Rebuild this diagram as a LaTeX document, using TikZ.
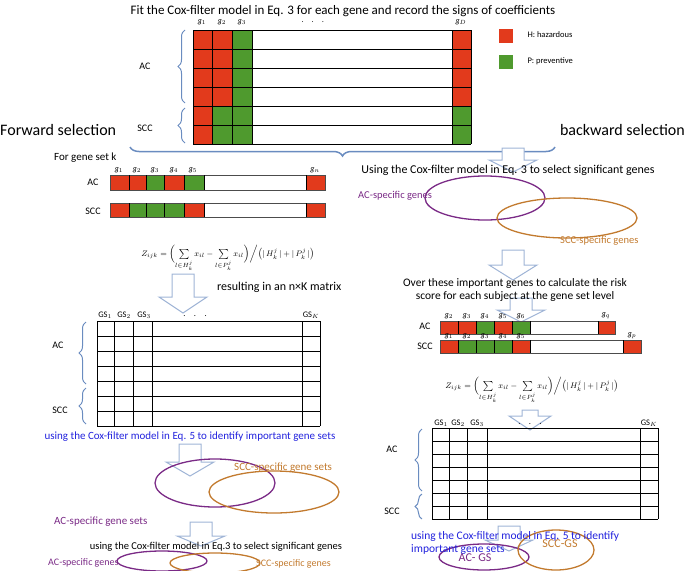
\documentclass[tikz,border=0pt]{standalone}
\usepackage{fontspec}
\setmainfont{Carlito}
\usetikzlibrary{decorations.pathreplacing}
\definecolor{hz}{HTML}{E23A1C}
\definecolor{pv}{HTML}{4F9A2E}
\definecolor{bl}{HTML}{2222DD}
\definecolor{pu}{HTML}{7A2A86}
\definecolor{br}{HTML}{C27A2E}
\definecolor{bc}{HTML}{6A8CC0}
\definecolor{ac}{HTML}{9FB4D6}
\newcommand\hollowarrow[4]{% x, ytop, ymid, ybot
  \draw[ac,line width=1pt,fill=white] (#1-11,#2) -- (#1+11,#2) -- (#1+11,#3) -- (#1+24,#3) -- (#1,#4) -- (#1-24,#3) -- (#1-11,#3) -- cycle;}
\newcommand\zformula{$Z_{ijk}=\Bigl(\mathop{\textstyle\sum}\limits_{l\in H_k^j}x_{il}-\mathop{\textstyle\sum}\limits_{l\in P_k^j}x_{il}\Bigr)\Big/\bigl(|\,H_k^j\,|+|\,P_k^j\,|\bigr)$}
\newcommand\fs[1]{\fontsize{#1}{\fpeval{#1*1.2}}\selectfont}
\begin{document}
\begin{tikzpicture}[x=1pt,y=-1pt,
  txt/.style={font=\fs{11},inner sep=1pt},
  gl/.style={font=\fs{8}\itshape,inner sep=0pt},
  gsl/.style={font=\fs{8.5},inner sep=0pt},
  lbl/.style={font=\fs{10},inner sep=1pt},
  rbrace/.style={bc,line width=1pt,decorate,decoration={brace,amplitude=7pt}},
  grid/.style={draw=black,line width=0.5pt},
  sel/.style={font=\fs{16},inner sep=0pt}]
\useasboundingbox (0,0) rectangle (685,570);
% ---------- top ----------
\node[font=\fs{13},inner sep=1pt] (title) at (343,11) {Fit the Cox-filter model in Eq. 3 for each gene and record the signs of coefficients};
\foreach \r in {0,...,5}{
  \pgfmathsetmacro{\ya}{30+\r*19}
  \fill[hz] (193,\ya) rectangle (212,\ya+19);
  \fill[pv] (232,\ya) rectangle (252,\ya+19);
}
\foreach \r in {0,...,3}{\pgfmathsetmacro{\ya}{30+\r*19}\fill[hz] (212,\ya) rectangle (232,\ya+19);\fill[hz] (452,\ya) rectangle (471,\ya+19);}
\foreach \r in {4,5}{\pgfmathsetmacro{\ya}{30+\r*19}\fill[pv] (212,\ya) rectangle (232,\ya+19);\fill[pv] (452,\ya) rectangle (471,\ya+19);}
\foreach \r in {0,...,6}{\draw[grid] (193,30+\r*19) -- (471,30+\r*19);}
\foreach \c in {193,212,232,252,452,471}{\draw[grid] (\c,30) -- (\c,144);}
\node[gl] (tg1) at (202,22) {g$_1$};
\node[gl] (tg2) at (222,22) {g$_2$};
\node[gl] (tg3) at (242,22) {g$_3$};
\node[gl] (tgd) at (313,22) {.\quad.\quad.};
\node[gl] (tgD) at (461,22) {g$_D$};
\draw[rbrace] (185,103) -- (185,30);
\draw[rbrace] (185,143) -- (185,108);
\node[lbl] (tac) at (145,66) {AC};
\node[lbl] (tscc) at (145,128) {SCC};
\fill[hz] (499,29) rectangle (513,43);
\fill[pv] (499,55) rectangle (513,69);
\node[font=\fs{8.5},anchor=west] (lh) at (524,35) {H: hazardous};
\node[font=\fs{8.5},anchor=west] (lp) at (524,61) {P: preventive};
\draw[bc,line width=1.5pt,decorate,decoration={brace,amplitude=9pt,mirror}] (130,147) -- (555,147);
\node[sel,anchor=west] (fw) at (0,130) {Forward selection};
\node[sel,anchor=east] (bw) at (685,130) {backward selection};
% ---------- left ----------
\node[txt,anchor=west] (gsk) at (53,158) {For gene set k};
\node[lbl] (lac) at (93,182) {AC};
\node[lbl] (lscc) at (93,211) {SCC};
\fill[hz] (110,175) rectangle (129,190); \fill[hz] (129,175) rectangle (146,190); \fill[pv] (146,175) rectangle (164,190);
\fill[hz] (164,175) rectangle (184,190); \fill[pv] (184,175) rectangle (204,190); \fill[hz] (306,175) rectangle (325,190);
\fill[hz] (110,203) rectangle (129,217); \fill[pv] (129,203) rectangle (146,217); \fill[pv] (146,203) rectangle (164,217);
\fill[pv] (164,203) rectangle (184,217); \fill[hz] (184,203) rectangle (204,217); \fill[hz] (306,203) rectangle (325,217);
\foreach \ya/\yb in {175/190,203/217}{
  \draw[grid,draw=gray!60!black] (110,\ya) rectangle (325,\yb);
  \foreach \c in {129,146,164,184,204,306}{\draw[grid] (\c,\ya) -- (\c,\yb);}}
\foreach \x/\t in {119/1,137/2,155/3,174/4,193/5}{\node[gl] at (\x,170) {g$_\t$};}
\node[gl] (lgn) at (315,170) {g$_n$};
\node[font=\fs{8}] (f1) at (228,258) {\zformula};
\hollowarrow{183}{274}{297}{313}
\node[font=\fs{12},inner sep=1pt,anchor=west] (res) at (216,287) {resulting in an n×K matrix};
\node[gsl] at (105,315) {GS$_1$};
\node[gsl] at (124,315) {GS$_2$};
\node[gsl] at (144,315) {GS$_3$};
\node[gsl] at (195,316) {.\quad.\quad.};
\node[gsl] (gsk1) at (311,315) {GS$_K$};
\foreach \r in {0,...,7}{\draw[grid] (97,321+\r*15) -- (320,321+\r*15);}
\foreach \c in {97,114,133,152,302,320}{\draw[grid] (\c,321) -- (\c,426);}
\draw[rbrace] (86,384) -- (86,322);
\draw[rbrace] (86,424) -- (86,388);
\node[lbl] (mac) at (58,345) {AC};
\node[lbl] (mscc) at (60,410) {SCC};
\node[txt,text=bl] (b1) at (190,437) {using the Cox-filter model in Eq. 5 to identify important gene sets};
\hollowarrow{190}{444}{462}{476}
\draw[pu,line width=1.3pt] (215,483) ellipse (60 and 24);
\draw[br,line width=1.3pt] (274,492) ellipse (65 and 21);
\node[txt,text=br,anchor=west] (scs) at (233,468) {SCC-specific gene sets};
\node[txt,text=pu,anchor=west] (acs) at (53,522) {AC-specific gene sets};
\hollowarrow{201}{522}{536}{546}
\node[font=\fs{10.5},inner sep=1pt] (b2) at (216,547) {using the Cox-filter model in Eq.3 to select significant genes};
\draw[pu,line width=1.3pt] (162,561) ellipse (45 and 10);
\draw[br,line width=1.3pt] (215,563) ellipse (45 and 10);
\node[font=\fs{10},text=pu,anchor=west,inner sep=0pt] (acg) at (48,563) {AC-specific genes};
\node[font=\fs{10},text=br,anchor=west,inner sep=0pt] (scg) at (256,564) {SCC-specific genes};
% ---------- right ----------
\hollowarrow{513}{148}{160}{172}
\node[font=\fs{12},inner sep=1pt] (r1) at (508,170) {Using the Cox-filter model in Eq. 3 to select significant genes};
\draw[pu,line width=1.3pt] (485,198) ellipse (60 and 22);
\draw[br,line width=1.3pt] (567,218) ellipse (70 and 20);
\node[font=\fs{10.5},text=pu,anchor=west,inner sep=0pt] (racg) at (358,196) {AC-specific genes};
\node[font=\fs{10.5},text=br,anchor=west,inner sep=0pt] (rscg) at (560,241) {SCC-specific genes};
\hollowarrow{513}{250}{265}{280}
\hollowarrow{521}{298}{310}{322}
\node[font=\fs{11.5},inner sep=1pt,align=center] (r2) at (515,290) {Over these important genes to calculate the risk\\score for each subject at the gene set level};
\node[lbl] (rac) at (425,326) {AC};
\node[lbl] (rscc) at (425,346) {SCC};
\fill[hz] (440,321) rectangle (458,334); \fill[hz] (458,321) rectangle (476,334); \fill[pv] (476,321) rectangle (494,334);
\fill[hz] (494,321) rectangle (512,334); \fill[pv] (512,321) rectangle (530,334); \fill[hz] (598,321) rectangle (615,334);
\fill[hz] (440,340) rectangle (458,353); \fill[pv] (458,340) rectangle (476,353); \fill[pv] (476,340) rectangle (494,353);
\fill[pv] (494,340) rectangle (512,353); \fill[hz] (512,340) rectangle (530,353); \fill[hz] (623,340) rectangle (641,353);
\draw[grid,draw=gray!60!black] (440,321) rectangle (615,334);
\foreach \c in {458,476,494,512,530,598}{\draw[grid] (\c,321) -- (\c,334);}
\draw[grid,draw=gray!60!black] (440,340) rectangle (641,353);
\foreach \c in {458,476,494,512,530,623}{\draw[grid] (\c,340) -- (\c,353);}
\foreach \x/\t in {449/2,467/3,485/4,503/5,521/6}{\node[gl] at (\x,316) {g$_\t$};}
\node[gl] (rgq) at (606,316) {g$_q$};
\foreach \x/\t in {449/1,467/2,485/3,503/4,521/5}{\node[gl] at (\x,336) {g$_\t$};}
\node[gl] (rgp) at (632,336) {g$_p$};
\node[font=\fs{8}] (f2) at (532,390) {\zformula};
\draw[ac,line width=1pt,fill=white] (522,410) -- (538,410) -- (538,416) -- (551,416) -- (530,430) -- (509,416) -- (522,416) -- cycle;
\node[gsl] at (441,423) {GS$_1$};
\node[gsl] at (458,423) {GS$_2$};
\node[gsl] at (477,423) {GS$_3$};
\node[gsl] at (530,424) {.\quad.\quad.};
\node[gsl] (rgsk) at (649,423) {GS$_K$};
\foreach \r in {0,...,7}{\draw[grid] (432,428+\r*13) -- (658,428+\r*13);}
\foreach \c in {432,449,467,487,640,658}{\draw[grid] (\c,428) -- (\c,519);}
\draw[rbrace] (422,491) -- (422,429);
\draw[rbrace] (422,519) -- (422,494);
\node[lbl] (rmac) at (392,449) {AC};
\node[lbl] (rmscc) at (392,511) {SCC};
\hollowarrow{509}{526}{540}{551}
\draw[pu,line width=1.3pt] (484,557) ellipse (45 and 13);
\draw[br,line width=1.3pt] (556,550) ellipse (38 and 20);
\node[font=\fs{11.5},text=bl,anchor=west,align=left,inner sep=0pt] (b3) at (411,543) {using the Cox-filter model in Eq. 5 to identify\\important gene sets};
\node[font=\fs{12},text=pu,inner sep=1pt] (acgs) at (475,558) {AC- GS};
\node[font=\fs{12},text=br,inner sep=1pt] (scgs) at (560,544) {SCC-GS};
\end{tikzpicture}
\end{document}
